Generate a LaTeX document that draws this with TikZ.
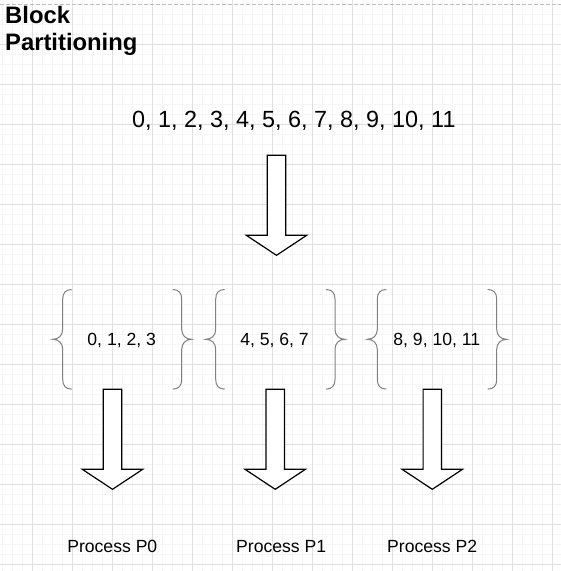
\documentclass[tikz,border=0pt]{standalone}
\usepackage{fontspec}
\setmainfont{Liberation Sans}
\definecolor{gridminor}{RGB}{246,246,246}
\definecolor{gridmajor}{RGB}{224,224,224}
\definecolor{pageline}{RGB}{190,190,190}
\definecolor{bracecol}{RGB}{128,128,128}
\tikzset{
  minorline/.style={draw=gridminor, line width=0.8pt},
  majorline/.style={draw=gridmajor, line width=0.9pt},
  titletext/.style={font=\fontsize{23.8}{27.3}\selectfont\bfseries, inner sep=0pt, align=left},
  bignum/.style={font=\fontsize{23.4}{28}\selectfont, inner sep=0pt},
  grouptext/.style={font=\fontsize{17.6}{21}\selectfont, inner sep=0pt},
  proclabel/.style={font=\fontsize{17.6}{21}\selectfont, inner sep=0pt},
  arrowshape/.style={draw=black, fill=white, line width=1.2pt, line join=miter},
  bracestyle/.style={draw=bracecol, line width=1pt},
  pics/darrow/.style={code={
    \draw[arrowshape] (-9.2,0) -- (9.2,0) -- (9.2,80) -- (30.2,80) -- (0,100)
      -- (-30.2,80) -- (-9.2,80) -- cycle;
  }},
  pics/curly/.style={code={
    \draw[bracestyle] (19,-49.8) .. controls (13,-49.8) and (10,-46.5) .. (10,-40)
      -- (10,-10) .. controls (10,-4) and (6,0) .. (0,0)
      .. controls (6,0) and (10,4) .. (10,10)
      -- (10,40) .. controls (10,46.5) and (13,49.8) .. (19,49.8);
  }}
}
\begin{document}
\begin{tikzpicture}[x=1pt,y=-1pt]
\useasboundingbox (0,0) rectangle (561,571);
\fill[white] (0,0) rectangle (561,571);
% grid
\foreach \gx in {2.7,12.7,...,560} \draw[minorline] (\gx,0) -- (\gx,571);
\foreach \gy in {4.3,14.3,...,570} \draw[minorline] (0,\gy) -- (561,\gy);
\foreach \gx in {32.7,72.7,...,560} \draw[majorline] (\gx,0) -- (\gx,571);
\foreach \gy in {44.3,84.3,...,570} \draw[majorline] (0,\gy) -- (561,\gy);
\draw[draw=pageline, line width=1pt, dash pattern=on 4pt off 2pt] (0,4.3) -- (561,4.3);

% title
\node[titletext, anchor=base west] (title) at (5,50.3) {Block\\Partitioning};

% all numbers
\node[bignum, anchor=base] (all) at (293.8,127.4) {0, 1, 2, 3, 4, 5, 6, 7, 8, 9, 10, 11};

% big arrow
\coordinate (bigtop) at (276.5,155.3);
\pic at (bigtop) {darrow};

% groups
\node[grouptext, anchor=base] (g1) at (121.7,345) {0, 1, 2, 3};
\node[grouptext, anchor=base] (g2) at (274.5,345) {4, 5, 6, 7};
\node[grouptext, anchor=base] (g3) at (436.8,345) {8, 9, 10, 11};

\pic at (52.7,339.3) {curly};
\pic[xscale=-1] at (191.7,339.3) {curly};
\pic at (205.7,339.3) {curly};
\pic[xscale=-1] at (345,339.3) {curly};
\pic at (367.3,339.3) {curly};
\pic[xscale=-1] at (506.7,339.3) {curly};

% small arrows
\coordinate (a1) at (112.5,389.3);
\coordinate (a2) at (275.2,389.3);
\coordinate (a3) at (432.3,389.3);
\pic at (a1) {darrow};
\pic at (a2) {darrow};
\pic at (a3) {darrow};

% process labels
\node[proclabel, anchor=base] (p0) at (112.3,552.7) {Process P0};
\node[proclabel, anchor=base] (p1) at (281.2,552.7) {Process P1};
\node[proclabel, anchor=base] (p2) at (432.2,552.7) {Process P2};
\end{tikzpicture}
\end{document}
